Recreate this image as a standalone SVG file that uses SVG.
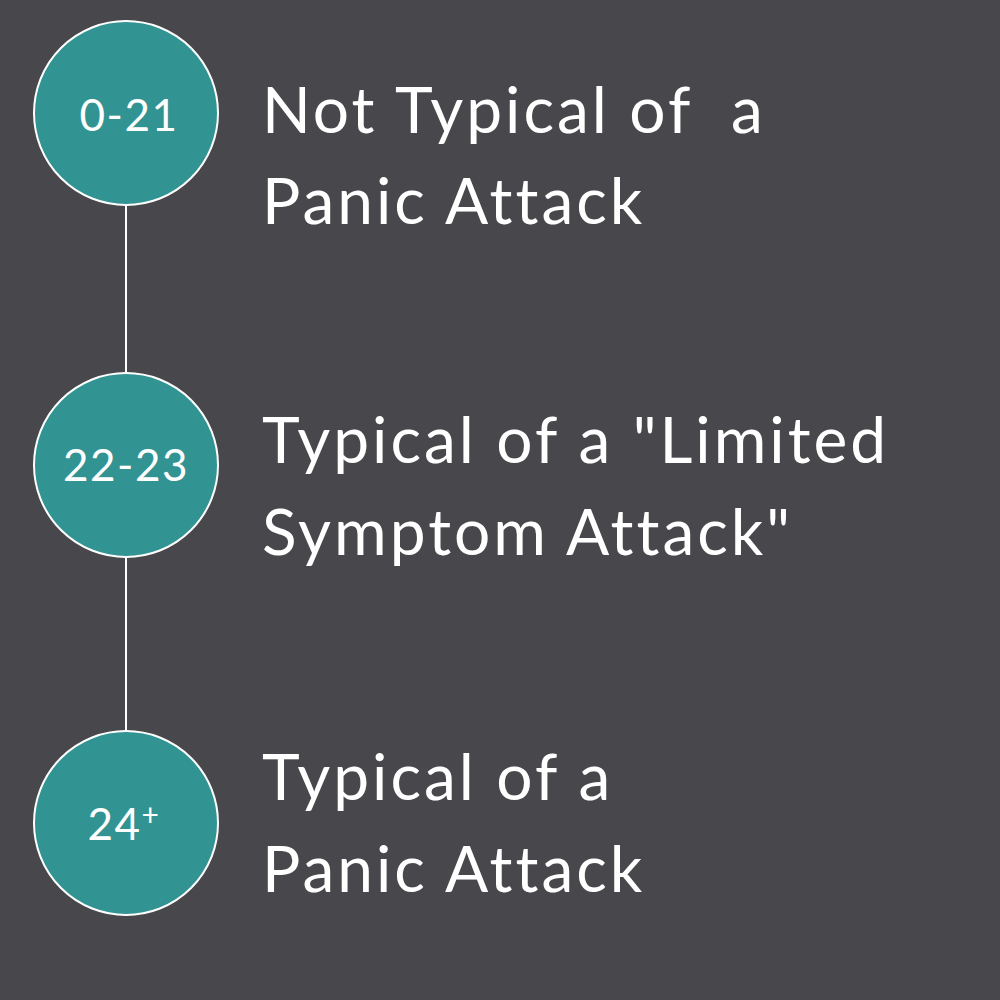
<svg xmlns="http://www.w3.org/2000/svg" width="1000" height="1000" viewBox="0 0 1000 1000">
<style>
.c{fill:#329393;stroke:#ffffff;stroke-width:2}
.n{font-family:Lato,"Open Sans",sans-serif;font-size:44px;fill:#fff;text-anchor:middle;letter-spacing:1.5px}
.t{font-family:Lato,"Open Sans",sans-serif;font-size:64px;fill:#fff;letter-spacing:3px}
</style>
<rect width="1000" height="1000" fill="#48484c"/>
<g id="connectors" stroke="#ffffff" stroke-width="2">
<line x1="126" y1="205" x2="126" y2="373"/>
<line x1="126" y1="557" x2="126" y2="731"/>
</g>
<g id="n1"><circle class="c" cx="126" cy="113" r="92"/><text class="n" x="129" y="131">0-21</text>
<text class="t" x="262" y="133" xml:space="preserve">Not Typical of  a</text><text class="t" x="262" y="224">Panic Attack</text></g>
<g id="n2"><circle class="c" cx="126" cy="465" r="92"/><text class="n" x="126" y="481">22-23</text>
<text class="t" x="262" y="463">Typical of a "Limited</text><text class="t" x="262" y="555">Symptom Attack"</text></g>
<g id="n3"><circle class="c" cx="126" cy="823" r="92"/><text class="n" x="124" y="840">24<tspan font-size="30" dy="-14">+</tspan></text>
<text class="t" x="262" y="800">Typical of a</text><text class="t" x="262" y="892">Panic Attack</text></g>
</svg>
